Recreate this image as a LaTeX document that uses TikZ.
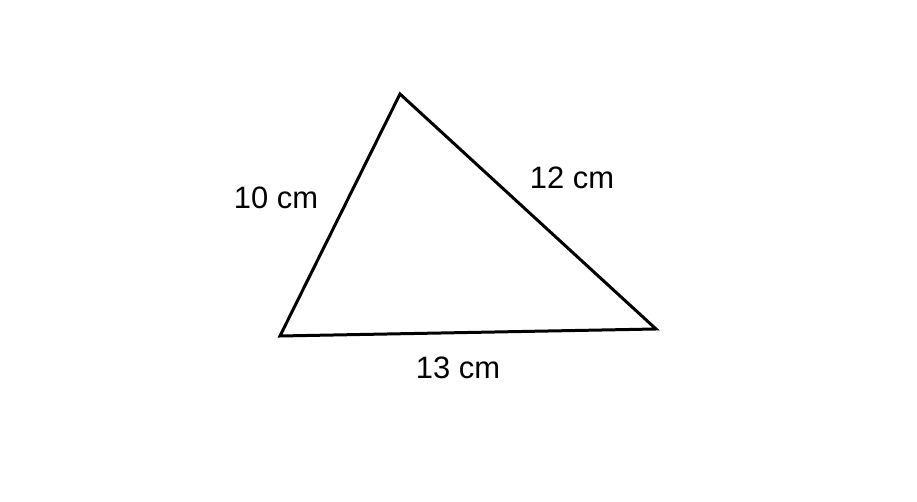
\documentclass[tikz,border=0pt]{standalone}
\usepackage{fontspec}
\setmainfont{Liberation Sans}
\begin{document}
\begin{tikzpicture}[x=0.02cm, y=-0.02cm]
			%%%%% START %%%%%
			\useasboundingbox[fill=white] (0, 0) rectangle (917, 502);
			
			\coordinate (top) at (400, 94);
			\coordinate (left) at (280, 336);
			\coordinate (right) at (656, 329);
			
			\draw[line width=0.6mm, line join=miter] (top) -- (left) -- (right) -- cycle;
			
			\node[font=\fontsize{17.6}{21}\selectfont] (sideTL) at (276, 198) {10 cm};
			\node[font=\fontsize{17.6}{21}\selectfont] (sideTR) at (572, 178) {12 cm};
			\node[font=\fontsize{17.6}{21}\selectfont] (sideB) at (458, 368) {13 cm};
			%%%%% END %%%%%
\end{tikzpicture}
\end{document}
